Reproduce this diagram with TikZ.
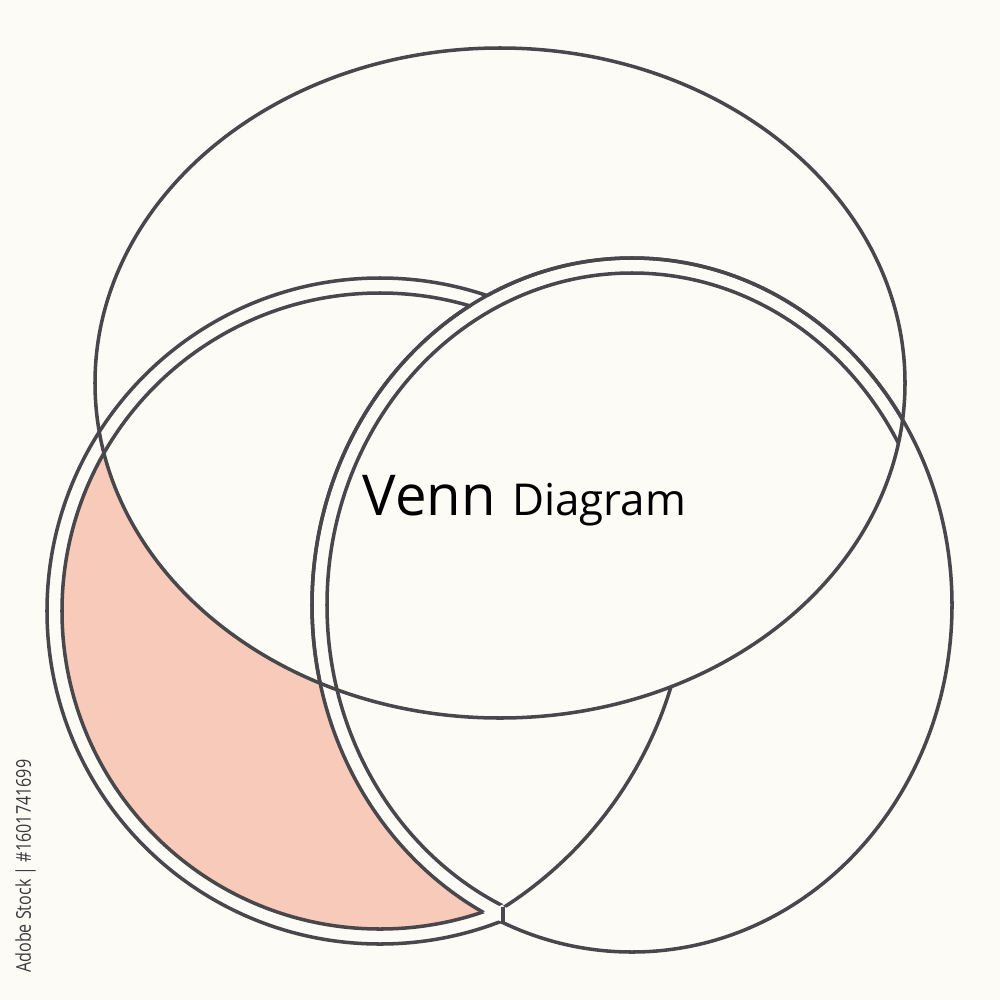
\documentclass[tikz,border=0pt]{standalone}
\usepackage{fontspec}
\newfontfamily\vennfont{Open Sans}
\newfontfamily\stockfont[FakeStretch=0.79]{Open Sans}
\usetikzlibrary{positioning}
\definecolor{paper}{RGB}{252,251,246}
\definecolor{ink}{RGB}{72,72,76}
\definecolor{peach}{RGB}{248,202,185}
\tikzset{
  venn schemes/.style = {
    x = 0.01cm, y = -0.01cm,
    % Контуры
    outline/.style     = {draw=ink, line width=1pt},
    % Подписи
    title big/.style   = {font=\vennfont\fontsize{16}{18}\selectfont, inner sep=0pt},
    title small/.style = {font=\vennfont\fontsize{12.5}{14}\selectfont, inner sep=0pt},
    stock mark/.style  = {font=\stockfont\fontsize{5.8}{7}\selectfont, inner sep=0pt, text=ink!80!black},
  }
}
\begin{document}
\begin{tikzpicture}[venn schemes]
\def\ellA{(500,383) ellipse [x radius=405, y radius=335]}
\def\BOut{(380,611) circle (333)}
\def\BIn{(380,611) circle (318)}
\def\BRim{(289,571) circle (399)}
\def\COut{(632,605) ellipse [x radius=320, y radius=347]}
\def\CIn{(632,605) ellipse [x radius=305, y radius=332]}
\def\outside#1{\clip (-50,-50) -- (-50,1050) -- (1050,1050) -- (1050,-50) -- cycle #1;}

\useasboundingbox (0,0) rectangle (1000,1000);
\fill[paper] (0,0) rectangle (1000,1000);

% заливка
\fill[peach] \BIn;
\fill[paper] \COut \ellA;

% левое кольцо
\begin{scope} \outside\COut \draw[outline] \BOut \BIn; \end{scope}
\begin{scope} \clip \CIn; \outside\ellA \draw[outline] \BRim; \end{scope}
% правое кольцо
\begin{scope} \outside\BOut \draw[outline] \COut; \end{scope}
\begin{scope} \clip \BIn; \draw[outline] \COut; \end{scope}
\begin{scope} \clip \ellA; \draw[outline] \COut; \end{scope}
\begin{scope} \clip \BIn \ellA; \draw[outline] \CIn; \end{scope}
% верхний эллипс
\draw[outline] \ellA;

\coordinate (knot in)  at (503,906.5);
\coordinate (knot out) at (503,922.5);
\draw[outline] (knot in) -- (knot out);

\node[title big, anchor=base west] (venn) at (362,515) {Venn};
\node[title small, base right=1.5mm of venn] (diagram) {Diagram};

\node[stock mark, rotate=90, anchor=base east] (stock) at (31,759) {Adobe Stock | \#1601741699};
\end{tikzpicture}
\end{document}
